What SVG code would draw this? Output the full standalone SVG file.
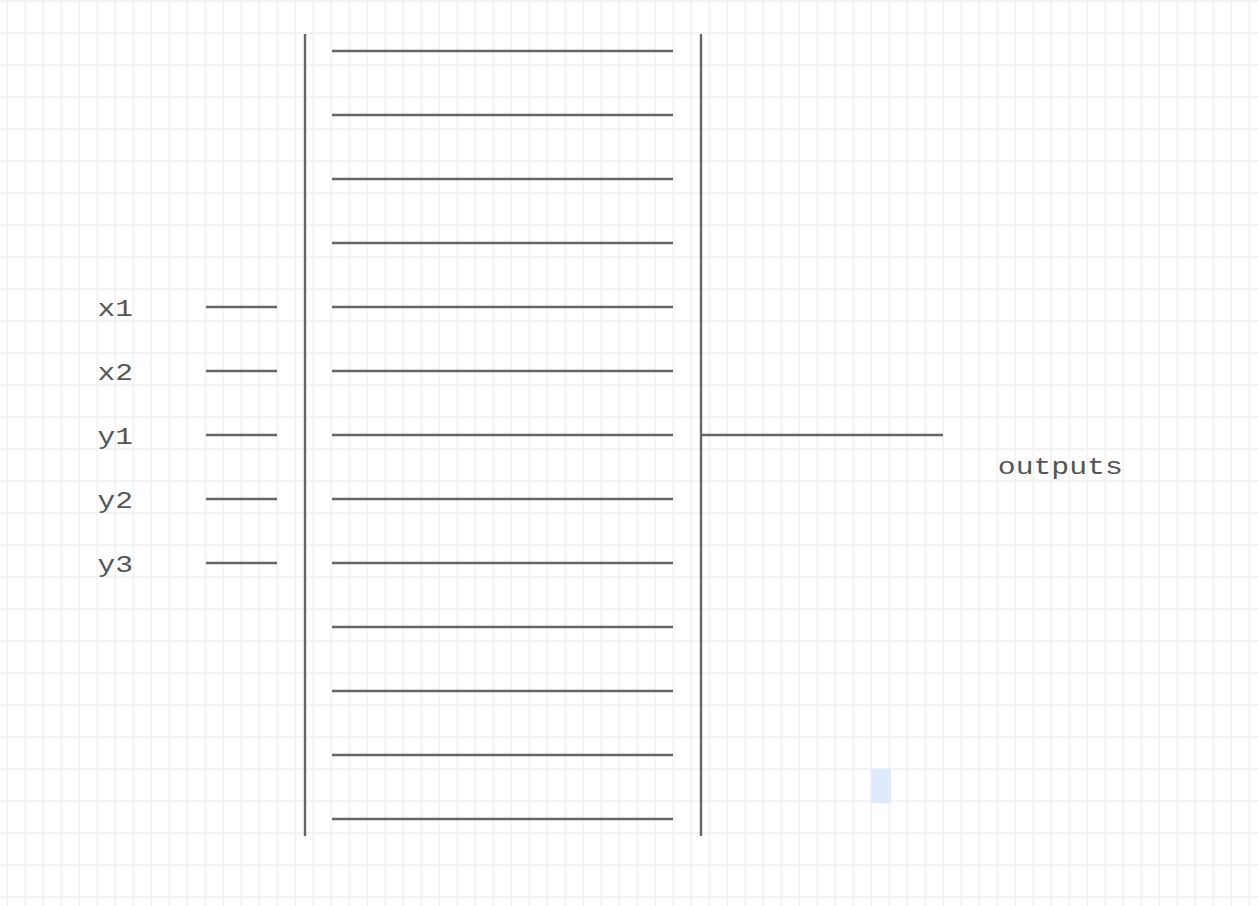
<svg xmlns="http://www.w3.org/2000/svg" width="1258" height="906" viewBox="0 0 1258 906">
  <defs>
    <pattern id="grid" patternUnits="userSpaceOnUse" x="-1.7" y="-15" width="18" height="32">
      <path d="M9 0V32M0 16H18" fill="none" stroke="#f3f3f3" stroke-width="2"/>
    </pattern>
  </defs>
  <style>
    .ln { stroke: #666666; stroke-width: 2.4; fill: none; }
    .lbl { font-family: "Liberation Mono", "Courier New", monospace; font-size: 24px; fill: #555555; }
  </style>
  <rect x="0" y="0" width="1258" height="906" fill="#ffffff"/>
  <rect x="0" y="0" width="1258" height="906" fill="url(#grid)"/>
  <rect x="871" y="769" width="20" height="34" fill="#deebfc"/>

  <g id="connectors">
    <g id="bars">
      <line class="ln" x1="305" y1="34" x2="305" y2="836"/>
      <line class="ln" x1="701" y1="34" x2="701" y2="836"/>
    </g>
    <g id="hidden-lines">
      <line class="ln" x1="332" y1="51" x2="673" y2="51"/>
      <line class="ln" x1="332" y1="115" x2="673" y2="115"/>
      <line class="ln" x1="332" y1="179" x2="673" y2="179"/>
      <line class="ln" x1="332" y1="243" x2="673" y2="243"/>
      <line class="ln" x1="332" y1="307" x2="673" y2="307"/>
      <line class="ln" x1="332" y1="371" x2="673" y2="371"/>
      <line class="ln" x1="332" y1="435" x2="673" y2="435"/>
      <line class="ln" x1="332" y1="499" x2="673" y2="499"/>
      <line class="ln" x1="332" y1="563" x2="673" y2="563"/>
      <line class="ln" x1="332" y1="627" x2="673" y2="627"/>
      <line class="ln" x1="332" y1="691" x2="673" y2="691"/>
      <line class="ln" x1="332" y1="755" x2="673" y2="755"/>
      <line class="ln" x1="332" y1="819" x2="673" y2="819"/>
    </g>
    <g id="input-lines">
      <line class="ln" x1="206" y1="307" x2="277" y2="307"/>
      <line class="ln" x1="206" y1="371" x2="277" y2="371"/>
      <line class="ln" x1="206" y1="435" x2="277" y2="435"/>
      <line class="ln" x1="206" y1="499" x2="277" y2="499"/>
      <line class="ln" x1="206" y1="563" x2="277" y2="563"/>
    </g>
    <line id="output-line" class="ln" x1="701" y1="435" x2="943" y2="435"/>
  </g>

  <g id="node-x1"><text class="lbl" x="97.5" y="316" textLength="35.5" lengthAdjust="spacingAndGlyphs">x1</text></g>
  <g id="node-x2"><text class="lbl" x="97.5" y="380" textLength="35.5" lengthAdjust="spacingAndGlyphs">x2</text></g>
  <g id="node-y1"><text class="lbl" x="97.5" y="444" textLength="35.5" lengthAdjust="spacingAndGlyphs">y1</text></g>
  <g id="node-y2"><text class="lbl" x="97.5" y="508" textLength="35.5" lengthAdjust="spacingAndGlyphs">y2</text></g>
  <g id="node-y3"><text class="lbl" x="97.5" y="572" textLength="35.5" lengthAdjust="spacingAndGlyphs">y3</text></g>
  <g id="node-outputs"><text class="lbl" x="997.8" y="474" textLength="125" lengthAdjust="spacingAndGlyphs">outputs</text></g>
</svg>
